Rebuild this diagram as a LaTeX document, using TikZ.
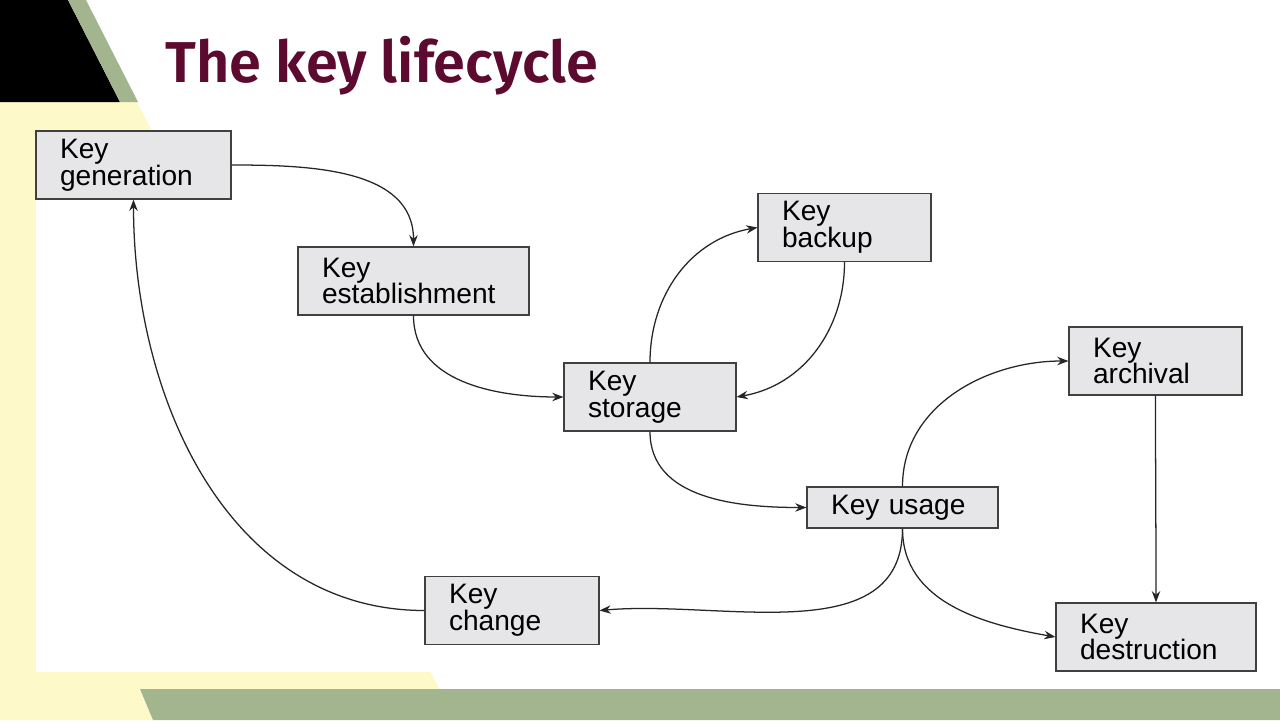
\documentclass[tikz,border=0pt]{standalone}
\usepackage{fontspec}
\setmainfont{Liberation Sans}
\newfontfamily\titlefont{Fira Sans SemiBold}
\usetikzlibrary{arrows.meta}
\definecolor{slidegreen}{HTML}{A3B58F}
\definecolor{slideyellow}{HTML}{FDF9C9}
\definecolor{titlered}{HTML}{5C0A2F}
\definecolor{boxgray}{HTML}{E6E6E8}
\begin{document}
\begin{tikzpicture}[x=0.05cm, y=-0.05cm,
    box/.style={draw=black!75, line width=1.8pt, fill=boxgray, align=left,
      inner xsep=34pt, inner ysep=0pt, minimum height=3.4cm,
      font=\fontsize{40}{38}\selectfont},
    link/.style={draw=black!85, line width=1.8pt, -{Stealth[length=16pt,width=12pt]}}]
  \useasboundingbox (0,0) rectangle (1280,720);
  % slide background
  \fill[slideyellow] (0,102) -- (137,102) -- (440,690) -- (140,689) -- (153,720) -- (0,720) -- cycle;
  \fill[black] (0,0) -- (68,0) -- (120,102) -- (0,102) -- cycle;
  \fill[slidegreen] (68,0) -- (86,0) -- (138,102) -- (120,102) -- cycle;
  \fill[white] (36,130) rectangle (1280,672);
  \fill[slidegreen] (140,689) -- (1280,689) -- (1280,720) -- (153,720) -- cycle;
  \node (title) [anchor=west, text=titlered, font=\titlefont\fontsize{82}{90}\selectfont] at (163,66) {The key lifecycle};
  % boxes
  \node (gen) at (133.5,165) [box, text width=7.35cm] {Key\\generation};
  \node (estab) at (413.5,281) [box, text width=9.15cm] {Key\\establishment};
  \node (backup) at (844.5,227.5) [box, text width=6.25cm] {Key\\backup};
  \node (storage) at (650,397) [box, text width=6.2cm] {Key\\storage};
  \node (archival) at (1155.5,361) [box, text width=6.25cm] {Key\\archival};
  \node (usage) at (902.5,507.5) [box, text width=7.15cm, minimum height=2.05cm] {Key usage};
  \node (change) at (512,610.5) [box, text width=6.3cm] {Key\\change};
  \node (destr) at (1156,637) [box, text width=7.6cm] {Key\\destruction};
  \foreach \source/\dest/\o/\i in {gen.east/estab.north/0/90, estab.south/storage.west/-90/180,
      storage.north/backup.west/90/190, backup.south/storage.east/-90/10,
      storage.south/usage.west/-90/180, usage.north/archival.west/90/180,
      archival.south/destr.north/-90/90, usage.south/destr.west/-90/170,
      usage.south/change.east/-90/5, change.west/gen.south/180/-90}
    \path (\source) edge[link, out=\o, in=\i] (\dest);
\end{tikzpicture}
\end{document}
